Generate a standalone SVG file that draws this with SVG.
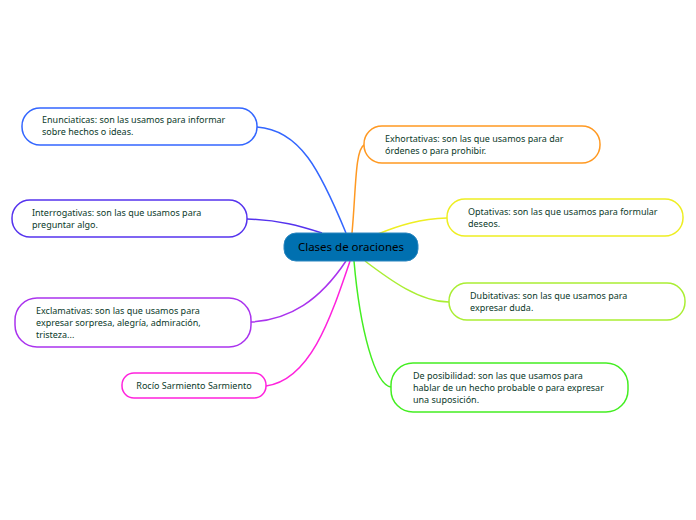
<svg xmlns="http://www.w3.org/2000/svg" width="696" height="520" viewBox="0 0 696 520">
<style>
.n{fill:#fff;stroke-width:1.5}
.t{font-family:"Noto Sans","Open Sans",sans-serif;font-size:9px;fill:#0b3a2a}
.c{fill:none;stroke-width:1.5}
</style>
<rect width="696" height="520" fill="#fff"/>
<g id="connectors">
<path class="c" stroke="#3366ff" d="M257,127 C300,130 320,170 346,233"/>
<path class="c" stroke="#5533ee" d="M247,219 C280,220 300,226 322,233"/>
<path class="c" stroke="#aa33ee" d="M251,322 C290,320 320,300 346,261"/>
<path class="c" stroke="#ff22dd" d="M266,386 C310,380 330,320 350,261"/>
<path class="c" stroke="#ff9922" d="M352,233 C356,190 355,150 364,145"/>
<path class="c" stroke="#eeee22" d="M378,234 C400,225 420,219 447,218"/>
<path class="c" stroke="#aaee33" d="M365,261 C390,280 420,302 449,302"/>
<path class="c" stroke="#44ee22" d="M354,261 C360,330 375,385 391,387"/>
</g>
<g id="center">
<rect x="284" y="233" width="134" height="28" rx="12" fill="#0070b0" stroke="#2a86c0"/>
<text x="351" y="251" text-anchor="middle" font-family="Noto Sans,sans-serif" font-size="11.5" fill="#000">Clases de oraciones</text>
</g>
<g id="enunciaticas">
<rect class="n" x="22" y="108" width="235" height="37" rx="18" stroke="#3366ff"/>
<text class="t" x="42" y="123">Enunciaticas: son las usamos para informar</text>
<text class="t" x="42" y="135">sobre hechos o ideas.</text>
</g>
<g id="interrogativas">
<rect class="n" x="12" y="200" width="235" height="37" rx="18" stroke="#5533ee"/>
<text class="t" x="32" y="216">Interrogativas: son las que usamos para</text>
<text class="t" x="32" y="228">preguntar algo.</text>
</g>
<g id="exclamativas">
<rect class="n" x="15" y="298" width="236" height="49" rx="22" stroke="#aa33ee"/>
<text class="t" x="36" y="314">Exclamativas: son las que usamos para</text>
<text class="t" x="36" y="326">expresar sorpresa, alegría, admiración,</text>
<text class="t" x="36" y="338">tristeza...</text>
</g>
<g id="rocio">
<rect class="n" x="122" y="373" width="144" height="25" rx="12" stroke="#ff22dd"/>
<text class="t" x="194" y="389" text-anchor="middle">Rocío Sarmiento Sarmiento</text>
</g>
<g id="exhortativas">
<rect class="n" x="364" y="126" width="236" height="37" rx="18" stroke="#ff9922"/>
<text class="t" x="385" y="142">Exhortativas: son las que usamos para dar</text>
<text class="t" x="385" y="154">órdenes o para prohibir.</text>
</g>
<g id="optativas">
<rect class="n" x="447" y="199" width="236" height="37" rx="18" stroke="#eeee22"/>
<text class="t" x="468" y="215">Optativas: son las que usamos para formular</text>
<text class="t" x="468" y="227">deseos.</text>
</g>
<g id="dubitativas">
<rect class="n" x="449" y="283" width="236" height="37" rx="18" stroke="#aaee33"/>
<text class="t" x="470" y="299">Dubitativas: son las que usamos para</text>
<text class="t" x="470" y="311">expresar duda.</text>
</g>
<g id="posibilidad">
<rect class="n" x="391" y="363" width="237" height="49" rx="22" stroke="#44ee22"/>
<text class="t" x="413" y="379">De posibilidad: son las que usamos para</text>
<text class="t" x="413" y="391">hablar de un hecho probable o para expresar</text>
<text class="t" x="413" y="403">una suposición.</text>
</g>
</svg>
